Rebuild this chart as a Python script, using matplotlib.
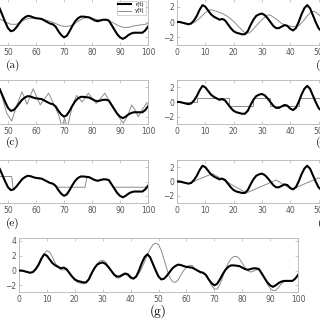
import numpy as np
import matplotlib
matplotlib.use("Agg")
import matplotlib.pyplot as plt

# reference signal r(t), read at t = 0..100
t = np.arange(0, 101)
r = [0.0, 0.0, -0.1, -0.2, -0.3, -0.2, 0.2, 0.8, 1.6, 2.2,
     2.0, 1.5, 1.0, 0.7, 0.5, 0.3, 0.4, 0.2, -0.3, -0.8,
     -1.2, -1.4, -1.5, -1.6, -1.6, -1.2, -0.4, 0.3, 0.8, 1.0,
     1.1, 0.9, 0.5, 0.0, -0.5, -0.8, -0.8, -0.6, -0.4, -0.5,
     -0.9, -1.1, -0.8, 0.0, 1.0, 1.8, 2.2, 1.8, 0.9, 0.0,
     -0.8, -1.2, -1.1, -0.7, -0.2, 0.3, 0.6, 0.8, 0.75, 0.6,
     0.5, 0.45, 0.4, 0.2, 0.0, -0.2, -0.3, -0.6, -1.2, -1.7,
     -2.0, -1.8, -1.2, -0.5, 0.1, 0.5, 0.7, 0.7, 0.65, 0.6,
     0.4, 0.2, 0.1, 0.2, 0.3, 0.3, 0.2, -0.4, -1.0, -1.6,
     -2.0, -2.2, -2.0, -1.7, -1.5, -1.4, -1.4, -1.4, -1.4, -1.1,
     -0.6]

# (a) visible part only
ya_t = [45, 47, 49, 51, 53, 55, 57, 59, 61, 63, 65, 67, 69, 71, 73, 75,
        77, 79, 81, 83, 85, 87, 89, 91, 93, 95, 97, 99, 100]
ya = [0.5, 0.4, 0.0, -0.3, -0.3, 0.1, 0.45, 0.5, 0.45, 0.3, 0.1, -0.2,
      -0.5, -0.6, -0.4, 0.1, 0.5, 0.6, 0.4, 0.25, 0.25, 0.0, -0.4, -0.7,
      -0.7, -0.5, -0.4, -0.3, -0.2]

# (b)
yb_t = [0, 2, 4, 6, 8, 10, 11, 12, 14, 16, 18, 20, 22, 24, 25, 26, 28, 30,
        32, 33, 35, 37, 39, 41, 43, 45, 46, 47, 48, 49, 50, 52, 54, 55]
yb = [0.0, -0.05, -0.2, -0.1, 0.5, 1.2, 1.5, 1.6, 1.4, 1.1, 0.7, 0.1,
      -0.7, -1.4, -1.5, -1.3, -0.5, 0.3, 0.9, 0.9, 0.4, -0.2, -0.5, -0.6,
      -0.5, 0.3, 0.8, 1.2, 1.4, 1.3, 1.0, 0.3, -0.3, -0.5]

# (c)
yc_t = [45, 46.5, 48, 49.5, 51.3, 53, 55, 56.8, 59, 61.5, 64.5, 67, 68.3,
        69.3, 70.2, 71.2, 73, 74.5, 76.5, 78.7, 81.5, 84.6, 87, 89.5, 91.2,
        92.8, 94.2, 95.5, 96.5, 98, 99.5, 100]
yc = [1.6, 2.6, 0.6, -1.5, -2.6, -0.6, 1.4, -0.3, 1.8, -0.4, 1.2, -0.8,
      -2.0, -3.5, -2.2, -3.5, -0.5, 0.9, 0.0, 1.2, -0.2, 1.2, -0.5, -2.0,
      -2.9, -1.8, -0.4, -1.2, -2.0, -1.0, -0.2, -0.3]

# (d) step output
yd_t = [0, 7, 7, 18.5, 18.5, 27, 27, 33, 33, 43, 43, 55]
yd = [0.0, 0.0, 0.5, 0.5, -0.5, -0.5, 0.5, 0.5, -0.5, -0.5, 0.5, 0.5]

# (e) hold segments, otherwise equal to r
ye_t = [45, 51.3, 51.9] + list(range(52, 68)) + [67.7, 77.5, 78.2] + \
       list(range(79, 88)) + [87.6, 100]
ye = [0.7, 0.7, -1.1] + r[52:68] + [-0.8, -0.8, 0.65] + r[79:88] + [-0.8, -0.8]

# (f) piecewise linear
yf_t = [0, 4, 12.5, 24.5, 35, 40.5, 50, 55]
yf = [0.0, -0.3, 1.1, -1.6, 0.2, -1.1, 0.5, 0.0]

# (g)
yg = [0.0, 0.0, -0.1, -0.2, -0.3, -0.2, 0.1, 0.6, 1.4, 2.2,
      2.7, 2.5, 1.8, 1.0, 0.5, 0.1, 0.1, 0.1, -0.3, -0.8,
      -1.3, -1.6, -1.7, -1.8, -1.7, -1.3, -0.5, 0.3, 0.9, 1.3,
      1.4, 1.2, 0.6, 0.0, -0.6, -1.0, -1.0, -0.7, -0.5, -0.7,
      -1.1, -1.1, -0.9, -0.4, 0.3, 1.2, 2.1, 2.9, 3.5, 3.7,
      3.5, 2.7, 1.5, 0.2, -0.9, -1.5, -1.6, -1.3, -0.6, 0.0,
      0.4, 0.7, 0.7, 0.3, -0.1, -0.3, -0.3, -0.6, -1.3, -2.0,
      -2.5, -2.5, -1.9, -0.9, 0.2, 1.0, 1.6, 1.9, 1.9, 1.6,
      1.0, 0.4, 0.0, -0.2, -0.1, 0.1, 0.1, -0.3, -1.0, -1.8,
      -2.4, -2.7, -2.7, -2.3, -1.8, -1.5, -1.4, -1.4, -1.4, -1.1,
      -0.6]

W = H = 320.0
grey = "#8c8c8c"
frame = "#b4b4b4"

fig = plt.figure(figsize=(3.2, 3.2), dpi=100)


def make_ax(x0, x1, y0, y1, ylim, yticks, xticks, ylabels=True):
    ax = fig.add_axes([x0 / W, 1 - y1 / H, (x1 - x0) / W, (y1 - y0) / H])
    ax.set_xlim(0, 100)
    ax.set_ylim(*ylim)
    ax.set_xticks(xticks)
    ax.set_yticks(yticks)
    if not ylabels:
        ax.set_yticklabels([])
    ax.tick_params(direction="in", length=2, width=0.5, colors=frame,
                   labelcolor="#555555", labelsize=5.5, pad=2,
                   top=True, right=True)
    for s in ax.spines.values():
        s.set_color(frame)
        s.set_linewidth(0.6)
    return ax


left = (-132, 148)
right = (177, 460)
rows = [(-1, 45), (80, 124), (160, 203)]
panels = [
    ("(a)", left, rows[0], ya_t, ya),
    ("(b)", right, rows[0], yb_t, yb),
    ("(c)", left, rows[1], yc_t, yc),
    ("(d)", right, rows[1], yd_t, yd),
    ("(e)", left, rows[2], ye_t, ye),
    ("(f)", right, rows[2], yf_t, yf),
]
label_y = [65, 142, 223]

for i, (lab, (x0, x1), (y0, y1), yt, yv) in enumerate(panels):
    is_left = (i % 2 == 0)
    xt = range(50, 101, 10) if is_left else range(0, 51, 10)
    ax = make_ax(x0, x1, y0, y1, (-3, 3), [-2, 0, 2], xt, ylabels=not is_left)
    ax.plot(t, r, color="black", lw=1.5, label="r(t)", zorder=3)
    ax.plot(yt, yv, color=grey, lw=0.7, label="y(t)", zorder=2)
    if lab == "(a)":
        leg = ax.legend(loc="upper right", fontsize=4, frameon=True,
                        fancybox=False, borderaxespad=0.3, handlelength=2.2,
                        borderpad=0.3, labelspacing=0.2)
        leg.get_frame().set_edgecolor(frame)
        leg.get_frame().set_linewidth(0.5)
    cx = (x0 + x1) / 2 + 5
    fig.text(cx / W, 1 - label_y[i // 2] / H, lab, fontfamily="cmr10",
             fontsize=8, ha="center", va="center")

axg = make_ax(19, 298, 238, 292, (-2.9, 4.4), [-2, 0, 2, 4], range(0, 101, 10))
axg.plot(t, r, color="black", lw=1.5, zorder=3)
axg.plot(t, yg, color=grey, lw=0.7, zorder=2)
fig.text(158 / W, 1 - 311 / H, "(g)", fontfamily="cmr10", fontsize=9.5,
         ha="center", va="center")

fig.savefig("out.png", dpi=100)
